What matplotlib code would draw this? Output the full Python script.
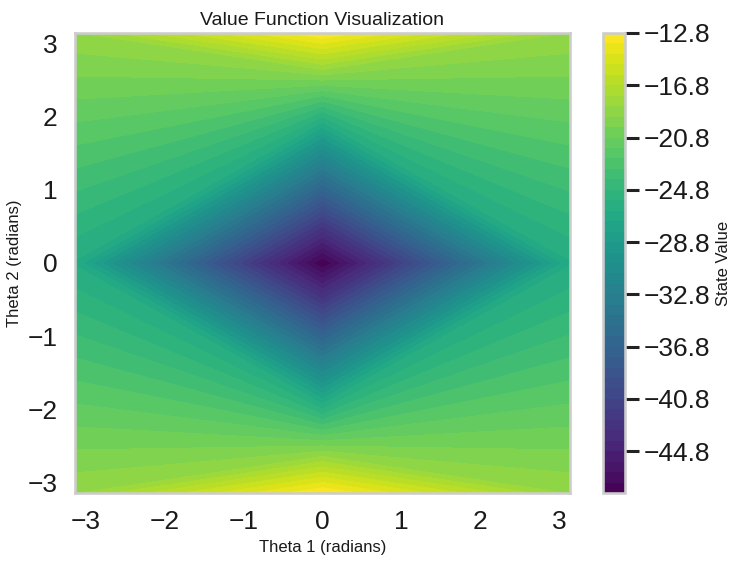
import numpy as np
import matplotlib.pyplot as plt
import seaborn as sns

sns.set_theme(style='whitegrid', context='talk')
plt.rcParams['font.family'] = ['Liberation Sans', 'DejaVu Sans']
plt.rcParams['text.color'] = '#1a1a1a'
plt.rcParams['axes.labelcolor'] = '#1a1a1a'
plt.rcParams['xtick.color'] = '#1a1a1a'
plt.rcParams['ytick.color'] = '#1a1a1a'

theta1 = [-np.pi, 0.0, np.pi]
theta2 = [-np.pi, 0.0, np.pi]
# rows: theta2, cols: theta1
values = [
    [-18.5, -12.8, -18.5],
    [-26.5, -48.0, -26.5],
    [-18.5, -12.8, -18.5],
]

T1, T2 = np.meshgrid(theta1, theta2)
V = np.array(values)
levels = np.arange(-48.0, -12.8 + 0.01, 0.8)

fig = plt.figure(figsize=(7.3, 5.62), dpi=100)
ax = fig.add_axes([75 / 730, 69 / 562, 495 / 730, 460 / 562])
cax = fig.add_axes([603 / 730, 69 / 562, 22 / 730, 460 / 562])
cs = ax.contourf(T1, T2, V, levels=levels, cmap='viridis')
ax.grid(False)
cb = fig.colorbar(cs, cax=cax)
cb.set_ticks(np.arange(-12.8, -48, -4.0))
cb.set_label('State Value', fontsize=12)
cb.ax.tick_params(labelsize=19, length=10, width=2.2, color='#222222', direction='out')
cb.outline.set_edgecolor('#cccccc')
ax.set_title('Value Function Visualization', fontsize=14)
ax.set_xlabel('Theta 1 (radians)', fontsize=12)
ax.set_ylabel('Theta 2 (radians)', fontsize=12)
ax.set_xticks([-3, -2, -1, 0, 1, 2, 3])
ax.set_yticks([-3, -2, -1, 0, 1, 2, 3])
ax.tick_params(labelsize=19)
for s in ax.spines.values():
    s.set_color('#cccccc')
fig.savefig('out.png')
